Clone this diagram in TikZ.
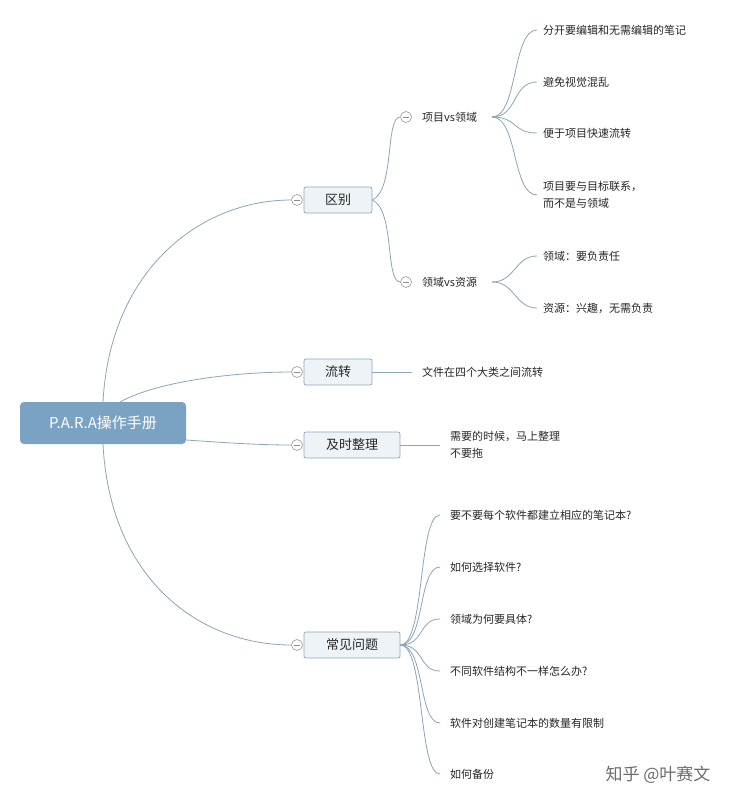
\documentclass[tikz,border=0pt]{standalone}
\usepackage{fontspec}
\setmainfont{Noto Sans CJK SC}
\begin{document}
\begin{tikzpicture}[x=1pt,y=-1pt,
  ln/.style={draw=lineC,line width=0.8pt},
  br/.style={draw=boxB,fill=boxF,rounded corners=2pt,line width=0.7pt,minimum height=26pt,inner sep=0pt,font=\fontsize{13}{15}\selectfont,text=black!85},
  lf/.style={inner sep=0pt,anchor=west,font=\fontsize{11}{17}\selectfont,text=black!85,align=left},
  cl/.style={circle,draw=gray!80,fill=white,minimum size=11pt,inner sep=0pt,line width=0.6pt,
    path picture={\draw[gray!90,line width=0.6pt] ([xshift=-3pt]path picture bounding box.center) -- ([xshift=3pt]path picture bounding box.center);}}]
\definecolor{lineC}{HTML}{8CA5B8}
\definecolor{boxB}{HTML}{8FA8BB}
\definecolor{boxF}{HTML}{EEF3F7}
\definecolor{rootF}{HTML}{7AA2C2}
\fill[white!97!blue!2] (0,0) rectangle (730,808);
\useasboundingbox (0,0) rectangle (730,808);
% root
\node[fill=rootF,rounded corners=4pt,minimum width=166pt,minimum height=42pt,text=white,font=\fontsize{15}{17}\selectfont] (root) at (103,423) {P.A.R.A操作手册};
% branches
\node[br,minimum width=68pt] (b1) at (338,200) {区别};
\node[br,minimum width=68pt] (b2) at (338,372) {流转};
\node[br,minimum width=96pt] (b3) at (352,445) {及时整理};
\node[br,minimum width=96pt] (b4) at (352,645) {常见问题};
\node[cl] (c1) at (297,200) {};
\node[cl] (c2) at (297,372) {};
\node[cl] (c3) at (297,445) {};
\node[cl] (c4) at (297,645) {};
\coordinate (r1) at (103,402);
\coordinate (r2) at (120,402);
\coordinate (r3) at (186,440);
\coordinate (r4) at (103,444);
\draw[ln] (r1) .. controls (110,270) and (200,200) .. (c1.west);
\draw[ln] (r2) .. controls (160,380) and (240,372) .. (c2.west);
\draw[ln] (r3) .. controls (230,443) and (260,445) .. (c3.west);
\draw[ln] (r4) .. controls (110,580) and (200,645) .. (c4.west);
% level 2 under 区别
\node[cl] (c11) at (406,117) {};
\node[cl] (c12) at (406,282) {};
\node[lf] (s1) at (422,117) {项目vs领域};
\node[lf] (s2) at (422,282) {领域vs资源};
\draw[ln] (b1.east) .. controls (395,190) and (385,117) .. (c11.west);
\draw[ln] (b1.east) .. controls (395,210) and (385,282) .. (c12.west);
% leaves of 项目vs领域
\coordinate (p1) at (492,117);
\foreach \y/\t [count=\i] in {30/分开要编辑和无需编辑的笔记,82/避免视觉混乱,133/便于项目快速流转}{
  \node[lf] (l1\i) at (543,\y) {\t};
  \draw[ln] (p1) .. controls (518,117) and (512,\y) .. ([xshift=-6pt]l1\i.west);
}
\node[lf] (l14) at (543,195) {项目要与目标联系，\\而不是与领域};
\draw[ln] (p1) .. controls (518,117) and (512,195) .. ([xshift=-6pt]l14.west);
% leaves of 领域vs资源
\coordinate (p2) at (492,282);
\node[lf] (l21) at (543,256) {领域：要负责任};
\node[lf] (l22) at (543,308) {资源：兴趣，无需负责};
\draw[ln] (p2) .. controls (515,282) and (515,256) .. ([xshift=-6pt]l21.west);
\draw[ln] (p2) .. controls (515,282) and (515,308) .. ([xshift=-6pt]l22.west);
% 流转
\node[lf] (l3) at (422,372) {文件在四个大类之间流转};
\draw[ln] (b2.east) -- ([xshift=-10pt]l3.west);
% 及时整理
\node[lf] (l4) at (450,445) {需要的时候，马上整理\\不要拖};
\draw[ln] (b3.east) -- ([xshift=-10pt]l4.west);
% 常见问题
\foreach \y/\t [count=\i] in {515/要不要每个软件都建立相应的笔记本?,567/如何选择软件?,619/领域为何要具体?,671/不同软件结构不一样怎么办?,723/软件对创建笔记本的数量有限制,774/如何备份}{
  \node[lf] (q\i) at (450,\y) {\t};
  \draw[ln] (b4.east) .. controls (425,645) and (418,\y) .. ([xshift=-10pt]q\i.west);
}
\node[anchor=east,text=gray!85!black,font=\fontsize{17}{19}\selectfont] (wm) at (714,775) {知乎 @叶赛文};
\end{tikzpicture}
\end{document}
